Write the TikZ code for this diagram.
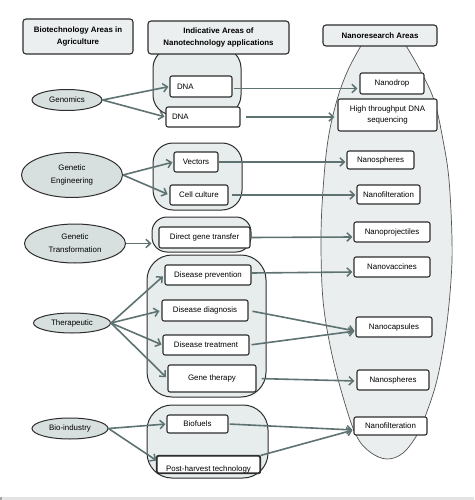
\documentclass[tikz,border=0pt]{standalone}
\usepackage{fontspec}
\setmainfont{Liberation Sans}
\usetikzlibrary{shapes.geometric,arrows.meta}
\definecolor{arr}{HTML}{5E7272}
\definecolor{ellfill}{HTML}{D8DFDF}
\definecolor{grpfill}{HTML}{E7ECEC}
\definecolor{hdrfill}{HTML}{ECEFEF}
\definecolor{bigfill}{HTML}{EAEEEE}
\definecolor{edge}{HTML}{2E2E2E}
\begin{document}
\begin{tikzpicture}[x=1pt,y=-1pt,
  font=\fontsize{7.9}{11}\selectfont,
  sz/.style 2 args={minimum width=#1pt, minimum height=#2pt},
  hdr/.style={draw=edge, line width=1.1pt, fill=hdrfill, rounded corners=3pt, inner sep=0pt, align=center, font=\fontsize{7.9}{12.5}\selectfont\bfseries},
  ell/.style={ellipse, draw=edge, line width=1pt, fill=ellfill, inner sep=0pt, align=center, font=\fontsize{7.9}{13}\selectfont},
  box/.style={rectangle, draw=edge, line width=1.1pt, fill=white, rounded corners=2pt, inner sep=0pt, align=center},
  grp/.style={draw=edge, line width=1pt, fill=grpfill},
  conn/.style={draw=arr, line width=1.6pt, -{Straight Barb[length=4.5pt,width=8.5pt,line width=1.5pt]}}
]
\useasboundingbox (0,0) rectangle (474,500);
\fill[white] (0,0) rectangle (474,500);
\fill[gray!22] (2,497) rectangle (474,500);
\fill[gray!70] (0,497) rectangle (2,500);

% big right shape
\draw[draw=gray!65!black, line width=0.7pt, fill=bigfill]
  plot[smooth, tension=0.6] coordinates {(362,44) (348,70) (337,100) (328,140) (323,190) (321,240) (323,300) (331,350) (343,397) (356,435) (370,452) (387,459) (403,453) (417,435) (425,417) (437,380) (446,330) (451,280) (452,240) (449,180) (443,140) (434,100) (420,70) (405,44)} -- cycle;

% group shapes
\draw[grp, rounded corners=20pt] (153,48) rectangle (241,115);
\draw[grp, rounded corners=20pt] (153,143) rectangle (242,210);
\draw[grp, rounded corners=15pt] (152,217) rectangle (251,252);
\draw[grp, rounded corners=25pt] (147,255) rectangle (266,397);
\draw[grp, rounded corners=25pt] (147,405) rectangle (268,478);

% headers
\node[hdr, sz={110}{35}] (h1) at (78,36.5) {Biotechnology Areas in\\Agriculture};
\node[hdr, sz={141}{33}] (h2) at (218.5,37.5) {Indicative Areas of\\Nanotechnology applications};
\node[hdr, sz={114}{21}] (h3) at (380,35.5) {Nanoresearch Areas};

% left ellipses
\node[ell, sz={70}{21}] (gen) at (67,100) {Genomics};
\node[ell, sz={101}{45}] (ge) at (72,175) {Genetic\\Engineering};
\node[ell, sz={101}{39}] (gt) at (75,243.5) {Genetic\\Transformation};
\node[ell, sz={77}{20}] (th) at (72,323) {Therapeutic};
\node[ell, sz={76}{21}] (bio) at (70,428.5) {Bio-industry};

% middle boxes
\node[box, text width=48pt, inner xsep=7pt, align=left, minimum height=21pt] (dna1) at (201,86.5) {DNA};
\node[box, text width=62pt, inner xsep=6pt, align=left, minimum height=20pt] (dna2) at (203,117) {DNA};
\node[box, sz={44}{20}] (vec) at (196,162) {Vectors};
\node[box, sz={58}{20}] (cell) at (199,195) {Cell culture};
\node[box, sz={91}{21}] (dgt) at (204.5,237.5) {Direct gene transfer};
\node[box, sz={86}{20}] (prev) at (208,275) {Disease prevention};
\node[box, sz={86}{21}] (diag) at (205,310.5) {Disease diagnosis};
\node[box, sz={86}{20}] (treat) at (206,345) {Disease treatment};
\node[box, sz={88}{27}] (gene) at (212,378.5) {Gene therapy};
\node[box, sz={61}{18}] (fuel) at (197.5,424) {Biofuels};
\node[box, sz={103}{17}] (post) at (208.5,464.5) {};
\begin{scope}
  \clip (post.south west) rectangle (post.north east);
  \node[inner sep=0pt, anchor=base] (posttext) at (208.5,471) {Post-harvest technology};
\end{scope}
\draw[draw=edge, line width=1.1pt, rounded corners=2pt] (post.south west) rectangle (post.north east);

% right boxes
\node[box, sz={64}{21}] (ndrop) at (392,83.5) {Nanodrop};
\node[box, sz={99}{32}, font=\fontsize{7.9}{11}\selectfont] (htds) at (387.5,115) {High throughput DNA\\sequencing};
\node[box, sz={67}{18}] (nsph1) at (380.5,160) {Nanospheres};
\node[box, sz={63}{19}] (nfil1) at (388.5,194.5) {Nanofilteration};
\node[box, sz={76}{20}] (nproj) at (392,232) {Nanoprojectiles};
\node[box, sz={76}{20}] (nvac) at (392,267) {Nanovaccines};
\node[box, sz={76}{20}] (ncap) at (394,327) {Nanocapsules};
\node[box, sz={72}{20}] (nsph2) at (393,380) {Nanospheres};
\node[box, sz={73}{18}] (nfil2) at (390.5,426) {Nanofilteration};

% connectors left
\draw[conn, shorten >=1pt] (gen.east) -- (dna1.west);
\draw[conn, shorten >=1pt] (gen.east) -- (dna2.west);
\draw[conn, shorten >=1pt] (ge.east) -- (vec.west);
\draw[conn, shorten >=2pt] (ge.east) -- (cell.west);
\draw[conn, shorten >=7pt] (gt.east) -- (gt.east -| dgt.west);
\draw[conn, shorten >=2pt] (th.east) -- (prev.west);
\draw[conn, shorten >=2pt] (th.east) -- (diag.west);
\draw[conn, shorten >=1pt] (th.east) -- (treat.west);
\draw[conn, shorten >=2pt] (th.east) -- (gene.west);
\draw[conn, shorten >=1pt] (bio.east) -- (fuel.west);
\draw[conn, shorten >=0pt] (bio.east) -- ([yshift=4pt]post.west);

% connectors right
\draw[conn, shorten <=1pt, shorten >=2pt] ([yshift=-2pt]dna1.east) -- ([yshift=-2pt]dna1.east -| ndrop.west);
\draw[conn, shorten <=5pt, shorten >=3pt] (dna2.east) -- (dna2.east -| htds.west);
\draw[conn, shorten >=1pt] (vec.east) -- (vec.east -| nsph1.west);
\draw[conn, shorten <=3pt, shorten >=1pt] (cell.east) -- (cell.east -| nfil1.west);
\draw[conn, shorten >=1pt] (dgt.east) -- ([yshift=-5pt]nproj.west);
\draw[conn, shorten >=1pt] ([yshift=2pt]prev.east) -- ([yshift=-5pt]nvac.west);
\draw[conn, shorten <=4pt, shorten >=1pt] (diag.east) -- ([yshift=-4pt]ncap.west);
\draw[conn, shorten <=2pt, shorten >=1pt] (treat.east) -- ([yshift=-4pt]ncap.west);
\draw[conn, shorten <=5pt, shorten >=2pt] (gene.east) -- ([yshift=-1pt]nsph2.west);
\draw[conn, shorten <=1pt, shorten >=1pt] (fuel.east) -- ([yshift=-4pt]nfil2.west);
\draw[conn, shorten >=1pt] (post.north east) -- ([yshift=-4pt]nfil2.west);
\end{tikzpicture}
\end{document}
